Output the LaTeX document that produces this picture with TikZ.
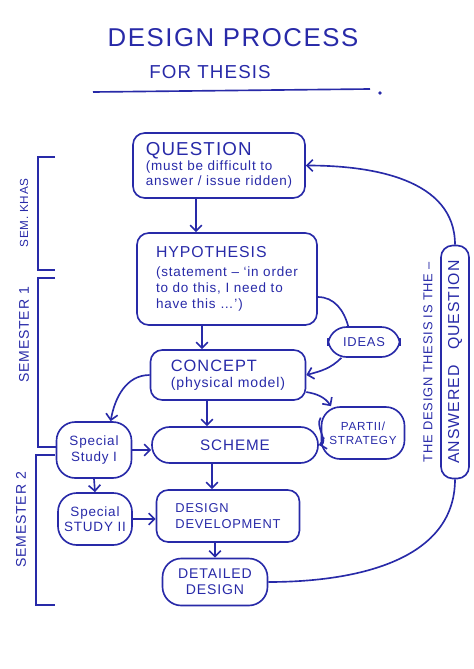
\documentclass[tikz,border=0pt]{standalone}
\usepackage{fontspec}
\setmainfont[LetterSpace=6]{Liberation Sans}
\usepackage{tikz}
\usetikzlibrary{arrows.meta}
\definecolor{ink}{RGB}{40,42,168}
\tikzstyle{pen}=[text=ink, inner sep=1pt]
\tikzstyle{box}=[draw=ink, line width=1.4pt, rounded corners=10pt, text=ink, inner sep=3pt]
\tikzstyle{blob}=[draw=ink, line width=1.4pt, rounded corners=16pt, text=ink, inner sep=1pt, align=center]
\tikzstyle{line}=[draw=ink, line width=1.4pt]
\tikzstyle{arrow}=[draw=ink, line width=1.4pt, -{Straight Barb[length=5pt,width=10pt]}]

\begin{document}
\begin{tikzpicture}[x=0.03cm, y=-0.03cm]
	\useasboundingbox (0,0) rectangle (474,669);
	\begin{scope}
		\node (title) at (233,38)[pen, font=\fontsize{22}{24}\selectfont] {DESIGN PROCESS};
		\node (sub) at (210,72)[pen, font=\fontsize{16}{18}\selectfont] {FOR THESIS};
		\draw[line] (93,92) -- (370,89);
		\fill[ink] (380,93) circle (1.5pt);
	\end{scope}
	\begin{scope}
		\node (q) at (219,165.5)[box, minimum width=5.16cm, minimum height=1.95cm, align=left, font=\fontsize{11.5}{13}\selectfont] {{\fontsize{16}{18}\selectfont QUESTION}\\ (must be difficult to\\ answer / issue ridden)};
		\node (h) at (227,279)[box, minimum width=5.4cm, minimum height=2.76cm, align=left, font=\fontsize{11.5}{14}\selectfont] {{\fontsize{13.5}{15}\selectfont HYPOTHESIS}\\[2pt] (statement -- `in order\\ to do this, I need to\\ have this \ldots')};
		\node (c) at (228,375)[box, minimum width=4.65cm, minimum height=1.5cm, align=left, font=\fontsize{12}{14}\selectfont] {{\fontsize{14}{16}\selectfont CONCEPT}\\ (physical model)};
		\node (ideas) at (364,342)[blob, minimum width=2.16cm, minimum height=0.9cm, font=\fontsize{11}{13}\selectfont] {IDEAS};
		\node (p) at (363,433)[blob, minimum width=2.49cm, minimum height=1.56cm, font=\fontsize{10}{12}\selectfont] {PARTII/\\STRATEGY};
		\node (s) at (235,445)[box, rounded corners=15pt, minimum width=4.98cm, minimum height=1.08cm, font=\fontsize{13}{15}\selectfont] {SCHEME};
		\node (s1) at (94,450)[blob, minimum width=2.25cm, minimum height=1.68cm, font=\fontsize{11.5}{13}\selectfont] {Special\\Study I};
		\node (s2) at (95,519)[blob, minimum width=2.22cm, minimum height=1.56cm, font=\fontsize{11.5}{13}\selectfont] {Special\\STUDY II};
		\node (dd) at (228,516)[box, minimum width=4.29cm, minimum height=1.56cm, align=left, font=\fontsize{11}{13}\selectfont] {DESIGN\\DEVELOPMENT};
		\node (dt) at (215,582)[blob, minimum width=3.15cm, minimum height=1.41cm, font=\fontsize{12}{14}\selectfont] {DETAILED\\DESIGN};
		\node (ans) at (455,362)[box, minimum width=0.84cm, minimum height=6.99cm, inner sep=1pt, font=\fontsize{13.5}{15}\selectfont] {\rotatebox{90}{ANSWERED\quad QUESTION}};
		\node (note) at (428,362)[pen, rotate=90, font=\fontsize{11}{13}\selectfont] {THE DESIGN THESIS IS THE --};
	\end{scope}
	\begin{scope}
		\draw[arrow] ([xshift=-0.69cm]q.south) -- ([xshift=-0.69cm]q.south |- h.north);
		\draw[arrow] ([xshift=-0.75cm]h.south) -- ([xshift=-0.75cm]h.south |- c.north);
		\draw[arrow] ([xshift=-0.63cm]c.south) -- ([xshift=-0.63cm]c.south |- s.north);
		\draw[arrow] ([xshift=-0.69cm]s.south) -- ([xshift=-0.69cm]s.south |- dd.north);
		\draw[arrow] (dd.south -| dt.north) -- (dt.north);
		\draw[line] ([yshift=-0.54cm]h.east) to[out=0, in=105] (ideas.135);
		\draw[arrow] (ideas.215) to[out=225, in=15] (c.east);
		\draw[arrow] ([yshift=-0.51cm]c.east) to[out=-10, in=125] (p.140);
		\draw[arrow] (p.160) to[out=235, in=15] (s.east);
		\draw[arrow] (c.west) to[out=180, in=80] (s1.60);
		\draw[arrow] (s1.east) -- (s1.east -| s.west);
		\draw[arrow] (s1.south) -- (s2.north);
		\draw[arrow] (s2.east) -- (s2.east -| dd.west);
		\draw[line] (dt.east) to[out=0, in=-90] (ans.south);
		\draw[arrow] (ans.north) to[out=90, in=0] (q.east);
	\end{scope}
	\begin{scope}
		\draw[line] (55,157) -- (38,157) -- (38,270) -- (55,270);
		\draw[line] (55,278) -- (38,278) -- (38,447) -- (57,447);
		\draw[line] (55,455) -- (36,455) -- (36,605) -- (55,605);
		\node (khas) at (24,213)[pen, rotate=90, font=\fontsize{10}{12}\selectfont] {SEM. KHAS};
		\node (sem1) at (24,335)[pen, rotate=90, font=\fontsize{12}{14}\selectfont] {SEMESTER 1};
		\node (sem2) at (21,520)[pen, rotate=90, font=\fontsize{12}{14}\selectfont] {SEMESTER 2};
	\end{scope}
\end{tikzpicture}
\end{document}
